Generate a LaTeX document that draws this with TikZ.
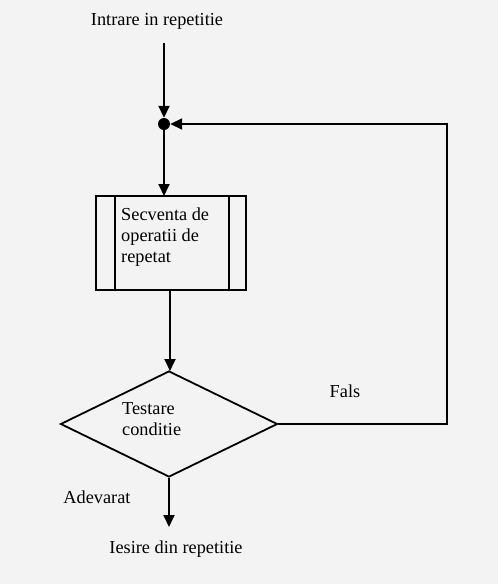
\documentclass[tikz,border=0pt]{standalone}
\usepackage{fontspec}
\setmainfont{Liberation Serif}
\usetikzlibrary{arrows.meta,shapes.geometric}
\definecolor{bg}{HTML}{F3F3F3}
\begin{document}
\begin{tikzpicture}[x=1pt,y=-1pt,
  line/.style={line width=1.8pt,black},
  arr/.style={line,-{Triangle[length=12pt,width=11pt]}},
  txt/.style={inner sep=0pt,font=\fontsize{18.3}{21}\selectfont},
  blocktxt/.style={txt,align=left,anchor=west}]
\fill[bg] (0,0) rectangle (498,584);
\useasboundingbox (0,0) rectangle (498,584);
% texts
\node[txt,anchor=base] (in) at (157,25) {Intrare in repetitie};
\node[txt,anchor=base] (out) at (176,553) {Iesire din repetitie};
\node[txt,anchor=base] (adev) at (97,503) {Adevarat};
\node[txt,anchor=base] (fals) at (345,397) {Fals};
% junction dot
\node[circle,fill=black,inner sep=0pt,minimum size=12pt] (dot) at (164,124) {};
% process box
\node[draw,line,rectangle,minimum width=150pt,minimum height=94pt,inner sep=0pt] (box) at (171,243) {};
\coordinate (bl1) at (115,196); \coordinate (bl2) at (115,290);
\coordinate (br1) at (229,196); \coordinate (br2) at (229,290);
\draw[line] (bl1) -- (bl2);
\draw[line] (br1) -- (br2);
\node[blocktxt] (boxtxt) at (121,237) {Secventa de\\operatii de\\repetat};
% decision
\node[draw,line,diamond,minimum width=217pt,minimum height=106pt,inner sep=0pt] (dec) at (169,424) {};
\node[blocktxt] (dectxt) at (122,419) {Testare\\conditie};
% coordinates
\coordinate (start) at (164,43);
\coordinate (boxin) at (164,196);
\coordinate (boxout) at (170,290);
\coordinate (decin) at (170,371);
\coordinate (endp) at (169,527);
\coordinate (rb) at (447,424);
\coordinate (rt) at (447,124);
% connectors
\draw[arr] (start) -- (dot.north);
\draw[arr] (dot) -- (boxin);
\draw[arr] (boxout) -- (decin);
\draw[arr] (dec.south) -- (endp);
\draw[arr] (dec.east) -- (rb) -- (rt) -- (dot.east);
\end{tikzpicture}
\end{document}
